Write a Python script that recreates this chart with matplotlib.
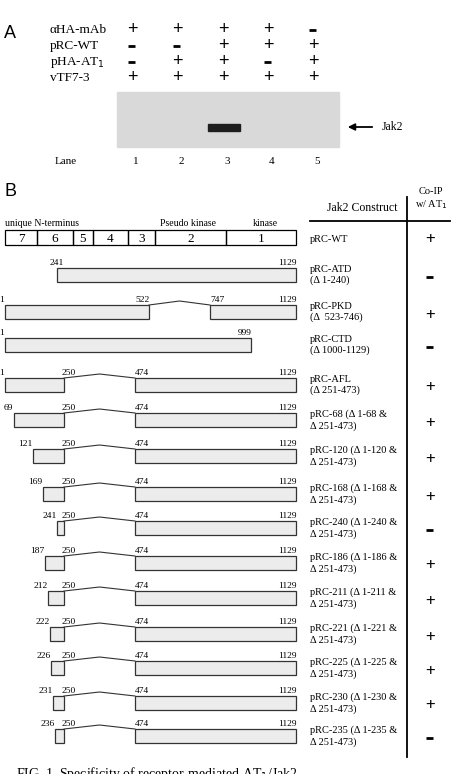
import matplotlib
matplotlib.use("Agg")
import matplotlib.pyplot as plt
import numpy as np
from matplotlib.patches import Rectangle

# ---------------- data ----------------
conditions = ["αHA-mAb", "pRC-WT", "pHA-AT$_1$", "vTF7-3"]
signs = [["+", "+", "+", "+", "-"],
         ["-", "-", "+", "+", "+"],
         ["-", "+", "+", "-", "+"],
         ["+", "+", "+", "+", "+"]]
lanes = ["1", "2", "3", "4", "5"]
band_lane = 3

domains = ["7", "6", "5", "4", "3", "2", "1"]
domain_edges = [1, 140, 300, 420, 465, 544, 845, 1129]

names = ["pRC-ATD\n(Δ 1-240)", "pRC-PKD\n(Δ  523-746)", "pRC-CTD\n(Δ 1000-1129)",
         "pRC-AFL\n(Δ 251-473)", "pRC-68 (Δ 1-68 &\nΔ 251-473)",
         "pRC-120 (Δ 1-120 &\nΔ 251-473)", "pRC-168 (Δ 1-168 &\nΔ 251-473)",
         "pRC-240 (Δ 1-240 &\nΔ 251-473)", "pRC-186 (Δ 1-186 &\nΔ 251-473)",
         "pRC-211 (Δ 1-211 &\nΔ 251-473)", "pRC-221 (Δ 1-221 &\nΔ 251-473)",
         "pRC-225 (Δ 1-225 &\nΔ 251-473)", "pRC-230 (Δ 1-230 &\nΔ 251-473)",
         "pRC-235 (Δ 1-235 &\nΔ 251-473)"]
segments = [[(241, 1129)], [(1, 522), (747, 1129)], [(1, 999)], [(1, 250), (474, 1129)],
            [(69, 250), (474, 1129)], [(121, 250), (474, 1129)], [(169, 250), (474, 1129)],
            [(241, 250), (474, 1129)], [(187, 250), (474, 1129)], [(212, 250), (474, 1129)],
            [(222, 250), (474, 1129)], [(226, 250), (474, 1129)], [(231, 250), (474, 1129)],
            [(236, 250), (474, 1129)]]
coip_wt = "+"
coip = ["-", "+", "-", "+", "+", "+", "+", "-", "+", "+", "+", "+", "+", "-"]
row_tops = [268, 305, 338, 378, 413, 449, 487, 521, 556, 591, 627, 661, 696, 729]

# schematic (non-linear) residue scale of the drawing
res_knots = [1, 69, 121, 169, 187, 212, 222, 226, 231, 241, 250, 300, 420, 474, 522, 747, 999, 1129]
px_knots = [5, 14, 33, 43, 45, 48, 50, 51, 53, 57, 64, 73, 93, 135, 149, 210, 251, 296]
def X(r):
    return float(np.interp(r, res_knots, px_knots))

# ---------------- figure ----------------
fig = plt.figure(figsize=(4.74, 7.74), dpi=100)
ax = fig.add_axes([0, 0, 1, 1])
ax.set_xlim(0, 474); ax.set_ylim(774, 0); ax.axis("off")
serif = ["Liberation Serif", "DejaVu Serif"]
sans = ["Liberation Sans", "DejaVu Sans"]

def sign(x, y, s, big=12):
    if s == "+":
        ax.text(x, y, "+", fontsize=big, family=sans, va="center", ha="center")
    else:
        ax.plot([x - 3.5, x + 3.5], [y, y], color="black", lw=2.0, solid_capstyle="butt")

# Panel A
ax.text(4, 33, "A", fontsize=13, family=sans, va="center")
colx = [132, 177, 223, 268, 313]
rowy = [30, 46, 62, 78]
for i, c in enumerate(conditions):
    ax.text(50, rowy[i], c, fontsize=9.5, family=serif, va="center")
    for j, s in enumerate(signs[i]):
        sign(colx[j], rowy[i], s, big=13)
ax.add_patch(Rectangle((117, 92), 222, 55, color="#d9d9d9", zorder=1))
bx = colx[band_lane - 1] + 1
ax.add_patch(Rectangle((bx - 16, 124), 32, 7, color="#1e1e1e", zorder=2))
ax.annotate("", xy=(345, 127), xytext=(375, 127),
            arrowprops=dict(arrowstyle="-|>", color="black", lw=1.3))
ax.text(382, 127, "Jak2", fontsize=8.5, family=serif, va="center")
ax.text(55, 161, "Lane", fontsize=8, family=serif, va="center")
for j, l in enumerate(lanes):
    ax.text(colx[j] + 4, 161, l, fontsize=8, family=serif, va="center", ha="center")

# Panel B
ax.text(4, 192, "B", fontsize=13, family=sans, va="center")
ax.text(362, 208, "Jak2 Construct", fontsize=8.5, family=serif, va="center", ha="center")
ax.text(431, 191, "Co-IP", fontsize=7.5, family=serif, va="center", ha="center")
ax.text(431, 205, "w/ AT$_1$", fontsize=7.5, family=serif, va="center", ha="center")
ax.plot([310, 450], [221, 221], color="black", lw=1.3)
ax.plot([407, 407], [197, 757], color="black", lw=1.3)

ax.text(5, 224, "unique N-terminus", fontsize=7, family=serif, va="center")
ax.text(188, 224, "Pseudo kinase", fontsize=7, family=serif, va="center", ha="center")
ax.text(265, 224, "kinase", fontsize=7, family=serif, va="center", ha="center")
for k, d in enumerate(domains):
    a, b = X(domain_edges[k]), X(domain_edges[k + 1])
    ax.add_patch(Rectangle((a, 230), b - a, 15, fill=False, lw=0.9, ec="black"))
    ax.text((a + b) / 2, 238.5, d, fontsize=9.5, family=serif, va="center", ha="center")
ax.text(310, 240, "pRC-WT", fontsize=7.5, family=serif, va="center")
sign(430, 239, coip_wt)

h = 14
fs = 6.8
for i, segs in enumerate(segments):
    top = row_tops[i]
    for k, (a, b) in enumerate(segs):
        xa, xb = X(a), X(b)
        ax.add_patch(Rectangle((xa, top), xb - xa, h, fc="#ececec", ec="#333333", lw=0.9))
        if k == 0:
            if a == 1:
                ax.text(xa - 1, top - 1, str(a), fontsize=fs, family=serif, ha="right", va="bottom")
            elif len(segs) == 1:
                ax.text(xa, top - 1, str(a), fontsize=fs, family=serif, ha="center", va="bottom")
            else:
                ax.text(xa - 0.5, top - 1, str(a), fontsize=fs, family=serif, ha="right", va="bottom")
        else:
            ax.text(xa, top - 1, str(a), fontsize=fs, family=serif, ha="left", va="bottom")
        if b == 250:
            ax.text(xb - 2, top - 1, str(b), fontsize=fs, family=serif, ha="left", va="bottom")
        else:
            ax.text(xb + 1, top - 1, str(b), fontsize=fs, family=serif, ha="right", va="bottom")
    if len(segs) == 2:
        x1, x2 = X(segs[0][1]), X(segs[1][0])
        ax.plot([x1, (x1 + x2) / 2, x2], [top, top - 4, top], color="#333333", lw=0.8)
    ax.text(310, top + 7, names[i], fontsize=7.5, family=serif, va="center", linespacing=1.25)
    sign(430, top + 9, coip[i])

ax.text(16, 765, "FIG. 1. Specificity of receptor-mediated AT$_1$/Jak2", fontsize=10,
        family=serif, va="top", clip_on=True)
fig.savefig("out.png", dpi=100)
